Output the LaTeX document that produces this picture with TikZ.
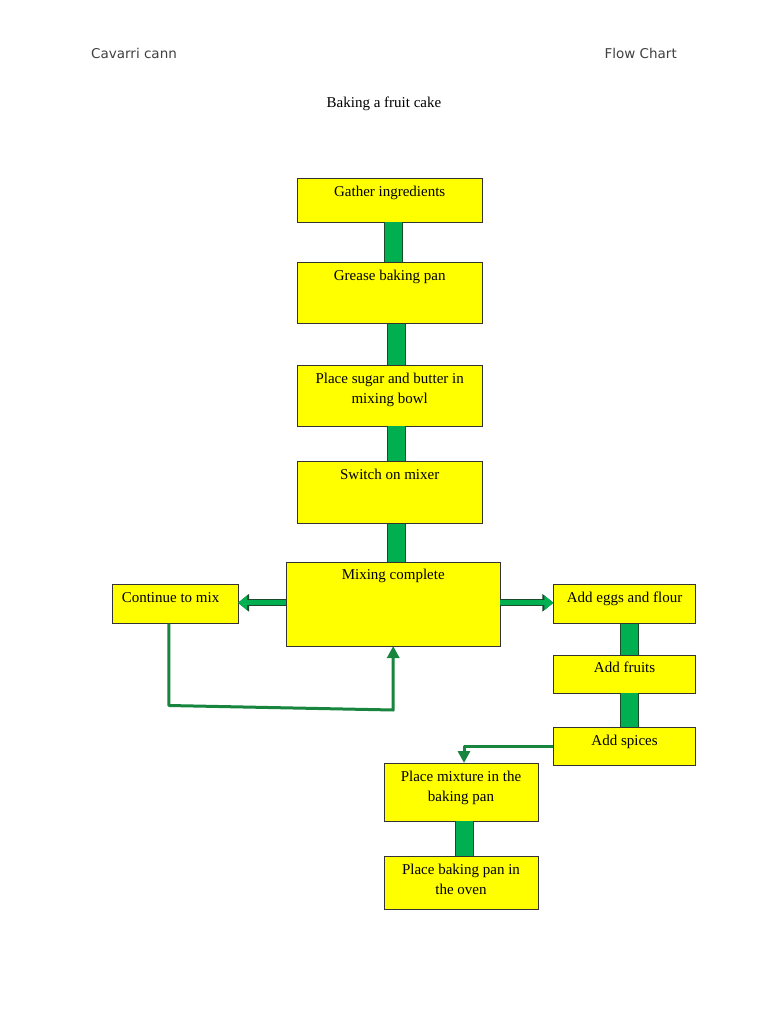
\documentclass[tikz,border=0pt]{standalone}
\usepackage{fontspec}
\setmainfont{Liberation Serif}
\newfontfamily\headfont{DejaVu Sans}
\usetikzlibrary{positioning,arrows.meta}

\definecolor{boxyellow}{HTML}{FFFF00}
\definecolor{barfill}{HTML}{00B050}
\definecolor{barline}{HTML}{1A4A2A}
\definecolor{linkgreen}{HTML}{17853D}

% testo in alto nel riquadro: larghezza, altezza, testo
\newcommand{\steptext}[3]{\parbox[c][#2][t]{#1}{\centering\rule{0pt}{18pt}#3}}

\tikzset{
  stepbox/.style={draw=black!80, fill=boxyellow, inner sep=0pt, font=\fontsize{15}{20}\selectfont},
  headtext/.style={inner sep=0pt, font=\headfont\fontsize{13.5}{16}\selectfont, text=black!75},
  titletext/.style={font=\fontsize{15}{18}\selectfont},
  bar/.style={draw=barline, line width=1pt, double=barfill, double distance=17pt},
  blockarrow/.style={line width=5pt, color=barfill, -{Triangle[length=9pt,width=14pt]},
    preaction={draw=barline, line width=7pt, -{Triangle[length=11pt,width=17pt]}}},
  link/.style={draw=linkgreen, line width=3pt, line join=round, -{Triangle[length=12pt,width=12pt]}}
}

\begin{document}
\begin{tikzpicture}[x=1pt, y=-1pt]
  \fill[white] (0,0) rectangle (768,1024);
  \useasboundingbox (0,0) rectangle (768,1024);

  % Intestazione
  \node[headtext, anchor=west] (author) at (91,53) {Cavarri cann};
  \node[headtext, anchor=east] (kind) at (677,53) {Flow Chart};
  \node[titletext] (title) at (384,104) {Baking a fruit cake};

  % Colonna principale
  \node[stepbox, anchor=north west] (gather) at (297,178) {\steptext{185pt}{44pt}{Gather ingredients}};
  \node[stepbox, below=40pt of gather] (grease) {\steptext{185pt}{61pt}{Grease baking pan}};
  \node[stepbox, below=41pt of grease] (sugar) {\steptext{185pt}{61pt}{Place sugar and butter in\\mixing bowl}};
  \node[stepbox, below=35pt of sugar] (mixer) {\steptext{185pt}{62pt}{Switch on mixer}};
  \node[stepbox, below=38pt of mixer, xshift=3.5pt] (mix) {\steptext{214pt}{84pt}{Mixing complete}};

  % Rami laterali
  \node[stepbox, left=48pt of mix] (again) {\parbox[c][39pt][t]{126pt}{\hspace*{10pt}\rule{0pt}{18pt}Continue to mix}};
  \node[stepbox, right=53pt of mix] (eggs) {\steptext{142pt}{39pt}{Add eggs and flour}};
  \node[stepbox, below=31pt of eggs] (fruits) {\steptext{142pt}{38pt}{Add fruits}};
  \node[stepbox, below=34pt of fruits] (spices) {\steptext{142pt}{38pt}{Add spices}};
  \node[stepbox, anchor=north] (pour) at (461,763) {\steptext{154pt}{58pt}{Place mixture in the\\baking pan}};
  \node[stepbox, below=35pt of pour] (oven) {\steptext{154pt}{53pt}{Place baking pan in\\the oven}};

  % Barre verdi tra i riquadri
  \foreach \a/\b/\s in {gather/grease/4pt, grease/sugar/7pt, sugar/mixer/7pt, mixer/mix/7pt,
                        eggs/fruits/4.5pt, fruits/spices/4.5pt, pour/oven/3.5pt}
    \draw[bar] ([xshift=\s]\a.south) -- ([xshift=\s]\a.south |- \b.north);

  % Frecce larghe
  \draw[blockarrow] ([yshift=1pt]mix.west) -- ([yshift=1pt]mix.west -| again.east);
  \draw[blockarrow] ([yshift=1pt]mix.east) -- ([yshift=1pt]mix.east -| eggs.west);

  % Ritorno e discesa
  \draw[link] ([xshift=-6pt]again.south) -- ++(0,82) -- ([yshift=-64pt]mix.south) -- (mix.south);
  \draw[link] (spices.west) -- ([xshift=3pt]pour.north |- spices.west) -- ([xshift=3pt]pour.north);
\end{tikzpicture}
\end{document}
